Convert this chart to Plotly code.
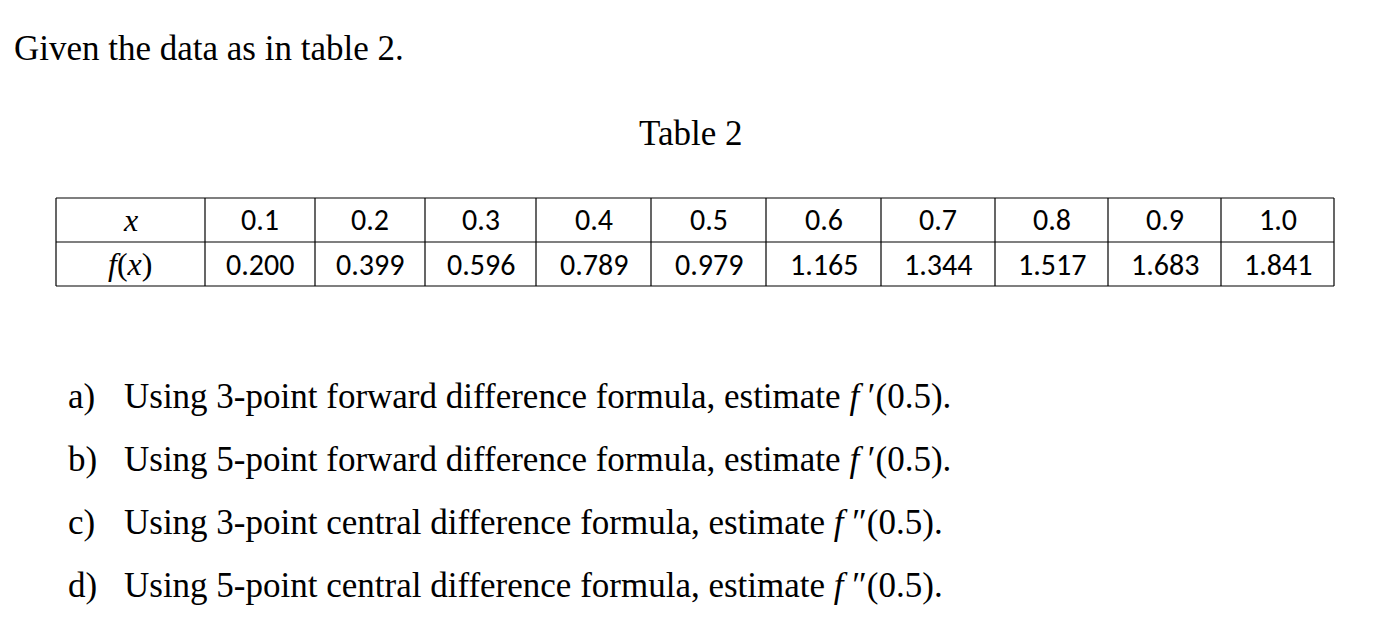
import plotly.graph_objects as go

x_vals = ["0.1", "0.2", "0.3", "0.4", "0.5", "0.6", "0.7", "0.8", "0.9", "1.0"]
f_vals = ["0.200", "0.399", "0.596", "0.789", "0.979", "1.165", "1.344", "1.517", "1.683", "1.841"]
title_text = "Given the data as in table 2."
table_title = "Table 2"
questions = [
    ("a)", "Using 3-point forward difference formula, estimate <i>f</i> ′(0.5)."),
    ("b)", "Using 5-point forward difference formula, estimate <i>f</i> ′(0.5)."),
    ("c)", "Using 3-point central difference formula, estimate <i>f</i> ″(0.5)."),
    ("d)", "Using 5-point central difference formula, estimate <i>f</i> ″(0.5)."),
]

W, H = 1377, 630
OFF = 8  # page body margin offset
bounds = [b - OFF for b in [56, 205, 315, 425, 536, 651, 766, 881, 995, 1108, 1221, 1334]]
top, mid, bot = 198 - OFF, 242 - OFF, 286 - OFF

fig = go.Figure()
shapes = []
line = dict(color="black", width=1.2)
for y in (top, mid, bot):
    shapes.append(dict(type="line", x0=bounds[0], x1=bounds[-1], y0=y, y1=y, line=line))
for b in bounds:
    shapes.append(dict(type="line", x0=b, x1=b, y0=top, y1=bot, line=line))

ann = []
serif = "Liberation Serif"
sans = "Carlito, Lato, Open Sans"
ann.append(dict(x=12 - OFF, y=48 - OFF, text=title_text, xanchor="left", font=dict(family=serif, size=35)))
ann.append(dict(x=690 - OFF, y=133 - OFF, text=table_title, xanchor="center", font=dict(family=serif, size=35)))
ann.append(dict(x=130 - OFF, y=220 - OFF, text="<i>x</i>", font=dict(family="Liberation Serif", size=32)))
ann.append(dict(x=130 - OFF, y=264 - OFF, text="<i>f</i>(<i>x</i>)", font=dict(family="Liberation Serif", size=32)))
for i in range(len(x_vals)):
    cx = (bounds[i + 1] + bounds[i + 2]) / 2
    ann.append(dict(x=cx, y=219 - OFF, text=x_vals[i], font=dict(family=sans, size=30)))
    ann.append(dict(x=cx, y=264 - OFF, text=f_vals[i], font=dict(family=sans, size=30)))
for k, (lab, q) in enumerate(questions):
    y = 396 + k * 63 - OFF
    ann.append(dict(x=66 - OFF, y=y, text=lab, xanchor="left", font=dict(family=serif, size=35)))
    ann.append(dict(x=122 - OFF, y=y, text=q, xanchor="left", font=dict(family=serif, size=35)))
for a in ann:
    a.update(xref="x", yref="y", showarrow=False, yanchor="middle")
    a["font"]["color"] = "black"
    a.setdefault("xanchor", "center")

fig.update_layout(
    width=W, height=H, margin=dict(l=0, r=0, t=0, b=0),
    paper_bgcolor="white", plot_bgcolor="white",
    xaxis=dict(range=[0, W], visible=False, fixedrange=True),
    yaxis=dict(range=[H, 0], visible=False, fixedrange=True),
    shapes=shapes, annotations=ann, showlegend=False,
)
fig.write_html("out.html")
